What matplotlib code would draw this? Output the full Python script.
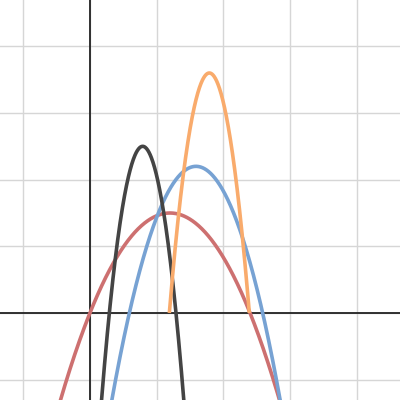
import numpy as np
import matplotlib
matplotlib.use("Agg")
import matplotlib.pyplot as plt

# parabolas y = -a (x - h)^2 + k
names = ["red", "blue", "black", "orange"]
a_vals = [1.04, 2.2, 10.0, 10.0]
h_vals = [1.2, 1.59, 0.79, 1.79]
k_vals = [1.5, 2.2, 2.5, 3.6]
colors = ["#cd7070", "#77a2d3", "#444444", "#f9ab6c"]
clip_nonneg = [False, False, False, True]

fig = plt.figure(figsize=(4, 4), dpi=100)
ax = fig.add_axes([0, 0, 1, 1])
xmin, xmax = -1.35, 4.65
ymin, ymax = -1.305, 4.695
ax.set_xlim(xmin, xmax)
ax.set_ylim(ymin, ymax)
for g in range(-1, 5):
    ax.axvline(g, color="#d6d6d6", lw=1.0, zorder=0)
    ax.axhline(g, color="#d6d6d6", lw=1.0, zorder=0)
ax.axhline(0, color="#222222", lw=1.3, zorder=1)
ax.axvline(0, color="#222222", lw=1.3, zorder=1)

for a, h, k, c, cl in zip(a_vals, h_vals, k_vals, colors, clip_nonneg):
    if cl:
        r = np.sqrt(k / a)
        x = np.linspace(h - r, h + r, 400)
    else:
        x = np.linspace(xmin, xmax, 1000)
    y = -a * (x - h) ** 2 + k
    ax.plot(x, y, color=c, lw=2.6, zorder=2, solid_capstyle="butt")

ax.axis("off")
fig.savefig("out.png", dpi=100)
